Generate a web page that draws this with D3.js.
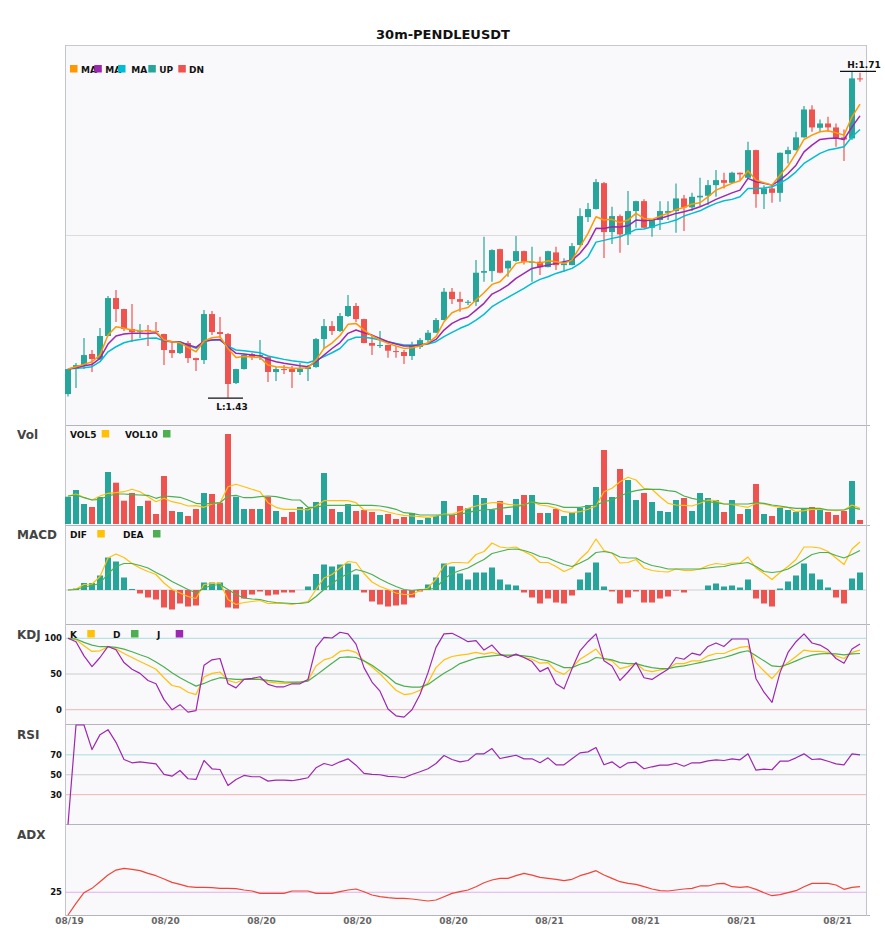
<!DOCTYPE html>
<html><head><meta charset="utf-8">
<script src="https://cdn.jsdelivr.net/npm/d3@7"></script>
<style>body{margin:0;background:#fff;} svg{display:block;font-family:"DejaVu Sans",sans-serif;}</style>
</head><body><svg id="c" width="885" height="950"></svg>
<script>
// ---------- data (30m PENDLEUSDT, 100 candles) ----------
const opens=[1.4334,1.4548,1.4582,1.4677,1.4634,1.4831,1.5156,1.5062,1.4891,1.4868,1.4882,1.4874,1.4848,1.4711,1.4685,1.4771,1.4642,1.4625,1.5019,1.4865,1.4848,1.4428,1.4548,1.4677,1.4660,1.4651,1.4523,1.4548,1.4548,1.4523,1.4548,1.4565,1.4805,1.4916,1.4874,1.5002,1.5088,1.4976,1.4771,1.4745,1.4754,1.4702,1.4694,1.4660,1.4737,1.4796,1.4859,1.4968,1.5210,1.5147,1.5116,1.5124,1.5373,1.5387,1.5575,1.5410,1.5473,1.5558,1.5458,1.5467,1.5421,1.5547,1.5438,1.5438,1.5610,1.5849,1.5918,1.6140,1.5721,1.5858,1.5701,1.5901,1.5986,1.5758,1.5824,1.5886,1.5901,1.6009,1.5932,1.6018,1.6032,1.6123,1.6166,1.6143,1.6229,1.6186,1.6423,1.6046,1.6095,1.6057,1.6389,1.6423,1.6532,1.6771,1.6614,1.6651,1.6617,1.6532,1.6523,1.7037];
const highs=[1.4551,1.4600,1.4814,1.4711,1.4899,1.5173,1.5224,1.5065,1.5105,1.4933,1.4925,1.4951,1.4850,1.4779,1.4782,1.4788,1.4645,1.5053,1.5045,1.4993,1.4856,1.4550,1.4677,1.4685,1.4796,1.4654,1.4565,1.4582,1.4574,1.4600,1.4582,1.4814,1.4976,1.4959,1.5028,1.5182,1.5113,1.4978,1.4831,1.4874,1.4757,1.4745,1.4711,1.4782,1.4814,1.4882,1.4985,1.5242,1.5242,1.5210,1.5139,1.5481,1.5681,1.5575,1.5578,1.5478,1.5687,1.5561,1.5595,1.5510,1.5561,1.5595,1.5496,1.5627,1.5926,1.5969,1.6175,1.6149,1.5938,1.5872,1.6072,1.5989,1.6003,1.5830,1.5986,1.5986,1.6138,1.6038,1.6057,1.6186,1.6166,1.6252,1.6229,1.6237,1.6232,1.6494,1.6426,1.6123,1.6123,1.6403,1.6451,1.6580,1.6800,1.6808,1.6686,1.6708,1.6651,1.6600,1.7098,1.7085];
const lows=[1.4312,1.4386,1.4548,1.4523,1.4625,1.4828,1.4951,1.4874,1.4779,1.4814,1.4745,1.4856,1.4582,1.4642,1.4677,1.4600,1.4531,1.4591,1.4839,1.4814,1.4303,1.4420,1.4545,1.4625,1.4625,1.4437,1.4446,1.4505,1.4386,1.4497,1.4446,1.4560,1.4719,1.4839,1.4865,1.4993,1.4951,1.4768,1.4668,1.4728,1.4645,1.4645,1.4591,1.4625,1.4719,1.4779,1.4856,1.4965,1.5105,1.5039,1.5096,1.5088,1.5296,1.5296,1.5368,1.5338,1.5467,1.5444,1.5296,1.5353,1.5419,1.5396,1.5381,1.5436,1.5607,1.5807,1.5915,1.5498,1.5618,1.5544,1.5610,1.5758,1.5753,1.5681,1.5738,1.5824,1.5715,1.5730,1.5901,1.5938,1.5952,1.6023,1.6095,1.6140,1.6166,1.6183,1.5929,1.5918,1.5972,1.5980,1.6309,1.6420,1.6529,1.6580,1.6580,1.6580,1.6451,1.6329,1.6509,1.7008];
const closes=[1.4548,1.4582,1.4668,1.4634,1.4831,1.5156,1.5062,1.4891,1.4865,1.4876,1.4874,1.4865,1.4711,1.4685,1.4779,1.4642,1.4625,1.5019,1.4865,1.4848,1.4420,1.4548,1.4668,1.4651,1.4668,1.4523,1.4548,1.4540,1.4523,1.4548,1.4565,1.4805,1.4916,1.4874,1.5002,1.5088,1.4976,1.4771,1.4748,1.4754,1.4705,1.4694,1.4660,1.4754,1.4796,1.4859,1.4968,1.5210,1.5147,1.5124,1.5124,1.5373,1.5387,1.5567,1.5373,1.5475,1.5558,1.5467,1.5467,1.5419,1.5558,1.5438,1.5453,1.5601,1.5858,1.5918,1.6149,1.5721,1.5858,1.5701,1.5901,1.5986,1.5758,1.5824,1.5901,1.5901,1.6009,1.5932,1.6023,1.6032,1.6123,1.6166,1.6143,1.6229,1.6215,1.6423,1.6046,1.6095,1.6057,1.6400,1.6423,1.6532,1.6771,1.6617,1.6651,1.6617,1.6523,1.6514,1.7037,1.7031];
const ma5=[1.4548,1.4568,1.4588,1.4611,1.4668,1.4839,1.4910,1.4897,1.4882,1.4876,1.4874,1.4868,1.4796,1.4782,1.4773,1.4734,1.4696,1.4788,1.4816,1.4825,1.4725,1.4648,1.4655,1.4651,1.4647,1.4582,1.4568,1.4563,1.4554,1.4554,1.4559,1.4625,1.4725,1.4771,1.4835,1.4931,1.4939,1.4882,1.4833,1.4796,1.4768,1.4745,1.4725,1.4731,1.4745,1.4773,1.4825,1.4953,1.5030,1.5059,1.5076,1.5139,1.5201,1.5273,1.5296,1.5367,1.5453,1.5467,1.5467,1.5453,1.5475,1.5467,1.5453,1.5481,1.5595,1.5710,1.5852,1.5824,1.5830,1.5802,1.5824,1.5881,1.5838,1.5830,1.5858,1.5881,1.5915,1.5932,1.5961,1.5972,1.6023,1.6080,1.6109,1.6138,1.6160,1.6246,1.6166,1.6143,1.6123,1.6209,1.6286,1.6395,1.6514,1.6551,1.6580,1.6588,1.6571,1.6551,1.6708,1.6817];
const ma10=[1.4548,1.4559,1.4576,1.4588,1.4640,1.4762,1.4831,1.4848,1.4854,1.4854,1.4852,1.4859,1.4790,1.4782,1.4779,1.4754,1.4734,1.4788,1.4796,1.4801,1.4739,1.4683,1.4677,1.4668,1.4660,1.4631,1.4611,1.4597,1.4588,1.4576,1.4568,1.4611,1.4668,1.4724,1.4775,1.4854,1.4882,1.4859,1.4839,1.4811,1.4782,1.4762,1.4745,1.4745,1.4754,1.4768,1.4802,1.4882,1.4939,1.4974,1.4996,1.5053,1.5111,1.5190,1.5224,1.5267,1.5325,1.5367,1.5410,1.5424,1.5438,1.5453,1.5467,1.5481,1.5539,1.5624,1.5753,1.5751,1.5766,1.5764,1.5775,1.5824,1.5818,1.5824,1.5838,1.5858,1.5881,1.5895,1.5915,1.5938,1.5967,1.6001,1.6029,1.6057,1.6080,1.6181,1.6152,1.6138,1.6123,1.6166,1.6223,1.6294,1.6408,1.6466,1.6514,1.6523,1.6526,1.6514,1.6622,1.6716];
const ma20=[1.4548,1.4554,1.4559,1.4568,1.4611,1.4696,1.4739,1.4773,1.4790,1.4802,1.4811,1.4814,1.4790,1.4782,1.4782,1.4754,1.4725,1.4782,1.4796,1.4796,1.4745,1.4711,1.4705,1.4696,1.4688,1.4660,1.4645,1.4631,1.4619,1.4611,1.4602,1.4625,1.4654,1.4688,1.4724,1.4796,1.4820,1.4820,1.4811,1.4796,1.4782,1.4768,1.4754,1.4754,1.4754,1.4762,1.4782,1.4825,1.4862,1.4897,1.4925,1.4968,1.5016,1.5082,1.5124,1.5162,1.5201,1.5239,1.5282,1.5316,1.5338,1.5367,1.5387,1.5410,1.5453,1.5510,1.5635,1.5650,1.5667,1.5681,1.5710,1.5744,1.5747,1.5766,1.5789,1.5804,1.5824,1.5858,1.5881,1.5903,1.5938,1.5967,1.5989,1.6001,1.6023,1.6095,1.6095,1.6098,1.6109,1.6138,1.6181,1.6237,1.6309,1.6352,1.6395,1.6423,1.6437,1.6451,1.6537,1.6600];
const volumes=[27.3,34,20,17,27,52,41.3,23.3,31,18,23.3,10,48,13,12,8,15,31,30,21.3,90,27.3,15,15,15,27,13,7,12,17,16,22,51,15,12,20,13,14,12,9,10,5,7,11,4,6,8,23,9,18,16,29,26,14.3,23,9,25,29,29,11,11,15,8,11,16,19,37,74,27,55,44,24,31,22,13,12,24,26,13,31,26,24,12,24,10,15,40,10,8,16,14,12,16,17,15,12,9,13,43,4];
const vol5=[28,30,26.7,24,28,30.7,31.3,32.3,34.7,32.3,27.3,22.3,25.7,22.3,20.7,18,18.3,16.7,20,21.3,37.3,39.7,37.3,34.7,32.3,21.3,16.7,14.7,14.7,14.7,14,18,23.3,23.3,23.3,23.3,21.3,14,14,14,12,10,8.7,8,7.3,6.7,8,10,10,12.3,15.7,18,20,21.3,21.3,19.7,19,19,22.3,19,18,15.7,12.3,11.3,12.3,14.7,18,32.3,35.7,42.3,46.7,44,35.7,34.7,27.3,20.7,19,18.7,18,20.7,24,23.3,20,19.7,18,16.7,20.7,20,18,16.7,16.7,12.3,13.3,14.7,14.7,14,13.3,14,19,15.7];
const vol10=[28,29,26.3,24,24.7,28,30,30,29.3,29,28.7,25.7,28,27.3,26.7,24,20.7,20,20.7,21.3,28,28.7,26.3,26.3,27.3,28,27.3,25.7,24,24,16.7,16.7,18.7,18.7,18.7,18.7,18.7,18.7,18.7,18,16.7,14.7,11.3,10.7,9,9,9,9,9,10,11.3,13.3,14,14.7,15.7,16.7,17.3,19,22.3,20.7,20.7,19,16.7,16.7,16.7,18,19,22.3,24,28,31.3,33.3,34.7,34.7,34.7,33.3,32.3,28,25.7,24,22.3,21.3,20,20,20,20,21.3,20.7,19,18,16.7,15.7,15.7,15.7,15.7,14,14,14,16.7,14.7];
const dif=[0,0.0002,0.0011,0.0012,0.0027,0.0064,0.0072,0.0065,0.0053,0.0044,0.0037,0.0031,0.0014,0.0001,-0.0006,-0.0013,-0.0017,0.0011,0.0013,0.0014,-0.0019,-0.0029,-0.0025,-0.0023,-0.0021,-0.0027,-0.0027,-0.0027,-0.0029,-0.0026,-0.0023,0.0001,0.0024,0.0031,0.0044,0.0057,0.0055,0.0033,0.0016,0.0007,0.0001,-0.0006,-0.0009,-0.0009,-0.0001,0.0004,0.0022,0.0049,0.0055,0.0055,0.0054,0.0071,0.0077,0.0094,0.0086,0.0084,0.0086,0.0077,0.0069,0.0055,0.0055,0.0047,0.0037,0.0044,0.0062,0.0077,0.0102,0.0079,0.0074,0.0054,0.0055,0.0061,0.0044,0.0039,0.0037,0.0036,0.0042,0.0039,0.0039,0.0042,0.0049,0.0053,0.0051,0.0054,0.0054,0.0066,0.0044,0.0033,0.0021,0.0035,0.0047,0.0061,0.0086,0.0086,0.0084,0.0077,0.0064,0.0051,0.0082,0.0096];
const dea=[0,0.0001,0.0006,0.0009,0.0013,0.0033,0.0047,0.0053,0.0053,0.0049,0.0044,0.0035,0.0027,0.0017,0.0009,0.0001,-0.0006,0.0004,0.0009,0.0011,0.0001,-0.0009,-0.0016,-0.0018,-0.0019,-0.0023,-0.0025,-0.0026,-0.0027,-0.0027,-0.0025,-0.0013,0.0001,0.0013,0.0024,0.0033,0.0041,0.0037,0.0031,0.0022,0.0014,0.0007,0.0001,-0.0001,0.0001,0.0001,0.0004,0.0022,0.0033,0.0039,0.0044,0.0053,0.0061,0.0073,0.0077,0.0081,0.0082,0.0079,0.0074,0.0067,0.0064,0.0057,0.0051,0.0047,0.0054,0.0062,0.0075,0.0077,0.0074,0.0066,0.0064,0.0064,0.0055,0.0049,0.0046,0.0042,0.0042,0.0042,0.0042,0.0042,0.0044,0.0046,0.0047,0.0051,0.0053,0.0055,0.0047,0.0037,0.0035,0.0037,0.0042,0.0051,0.0061,0.0071,0.0075,0.0075,0.0069,0.0064,0.0071,0.0079];
const macdHist=[0,0.0003,0.0014,0.0014,0.0029,0.0065,0.0057,0.0025,0.0002,-0.0007,-0.0015,-0.0019,-0.0035,-0.0039,-0.0027,-0.0033,-0.0031,0.0015,0.0015,0.0015,-0.0035,-0.0037,-0.0017,-0.0009,-0.0003,-0.0011,-0.0009,-0.0005,-0.0005,0,0.0007,0.0032,0.0051,0.0047,0.0051,0.0053,0.0031,-0.0005,-0.0023,-0.0029,-0.0033,-0.0031,-0.0029,-0.0015,-0.0003,0.0011,0.0025,0.0053,0.0047,0.0033,0.0021,0.0035,0.0035,0.0045,0.0021,0.0011,0.0009,-0.0005,-0.0015,-0.0027,-0.0017,-0.0025,-0.0027,-0.0011,0.0021,0.0035,0.0055,0.0007,-0.0003,-0.0027,-0.0015,-0.0003,-0.0025,-0.0025,-0.0017,-0.0013,-0.0001,-0.0005,0,0,0.0009,0.0013,0.0007,0.0009,0.0005,0.0021,-0.0017,-0.0027,-0.0033,0.0003,0.0017,0.0029,0.0053,0.0033,0.0021,0.0005,-0.0015,-0.0027,0.0023,0.0035];
const kVals=[100,98.1,89.6,81.6,82.5,88.2,84.9,78.7,73.1,67.4,62.2,56.6,44.8,33.9,31.6,24.5,21.2,45.7,50.9,52.8,41,37.7,42.4,43.4,42.4,39.1,37.7,36.8,37.7,38.7,41,61.3,69.8,73.1,81.6,83.5,80.2,68.4,59.9,50.4,38.7,27.3,21.2,22.6,27.3,37.7,58.9,69.8,74.5,76.4,77.8,80.2,77.8,80.2,76.9,75.4,77.3,73.1,70.7,65.1,66,54.2,49.5,58.9,70.7,77.8,84.9,70.7,68.4,57.5,60.3,65.1,55.6,53.3,55.6,57.5,64.6,64.6,68.4,68.4,75.4,78.7,78.7,83.5,87.2,88.6,66,54.2,43.4,56.6,66,74.5,83.5,81.6,81.6,80.2,75.4,71.7,80.2,83.5];
const dVals=[100,99,94.3,90.5,88.2,88.2,87.2,84.9,81.1,76.9,73.1,66.9,59.9,51.9,44.8,38.7,33,36.8,41.5,44.8,43.4,42.4,42.4,42.4,42.4,41,40.1,39.1,38.7,38.7,40.1,48.1,56.6,65.1,73.1,74,73.1,68.4,62.2,54.2,46.2,36.8,33,31.6,31.6,35.4,43.4,50.9,57.5,64.6,68.4,72.1,74,75.4,76.4,76.4,76.4,75.4,74,70.7,68.4,63.6,58.9,58.9,63.6,66.9,73.1,71.7,69.8,66,64.6,64.6,61.3,58.9,57.5,57.5,59.9,61.3,63.6,66,68.4,70.7,73.1,76.4,80.2,82.5,75.4,68.4,61.3,60.3,63.6,68.4,73.1,76.4,78.3,78.7,78.3,76.9,78.3,78.7];
const jVals=[100,95.2,75.4,60.3,73.1,88.6,83.9,66,56.6,50.9,41,36.3,14.1,0,7.1,-3.3,-1.4,62.2,69.8,71.7,36.3,30.6,42.4,43.8,46.2,35.4,32.1,32.1,36.3,36.3,42.4,87.2,101.4,100.4,108.4,106.1,91.9,58.9,38.7,25.9,0.9,-8.5,-10.4,0,21.2,51.9,87.2,106.1,107,101.4,95.2,96.7,83.5,90.5,77.8,73.1,77.8,73.1,67.4,53.3,58.9,36.3,29.2,57.5,82.5,95.2,106.1,68.4,61.3,41,52.8,66,44.8,42.4,49.5,56.6,73.1,70.7,79.2,76.4,88.6,93.4,88.6,99,99,99,43.4,24.5,10.4,51.9,80.2,95.2,106.1,93.4,90.5,83.9,71.7,65.1,84.9,91.9];
const rsiVals=[0,100,100,75.3,90.3,95.3,82.6,65.3,62,63,62,61,50.3,48.6,54.3,46,45.3,64.3,56,55.3,39.3,45.3,49.3,48,48,43.6,44.6,44.6,44,45.3,47,57,61.3,59.3,63,66,59.6,51.3,50.3,50,48.3,48,47,50.3,53,56,61.3,69.3,65.3,63,64.3,71,71,76.3,66.3,68,69.6,66,66,62,67,60,60,66,72,73,77.3,60,63,57,62,62.6,56,58,59.6,59.6,61.6,58.6,62,62,64,65,64.3,66,65,71,54.6,55.6,55,63.6,63.6,67,71,65.3,66,63.6,61,60,71,70];
const adxVals=[0,12.8,24.5,29.3,36.6,43.9,49.4,51.3,50.2,48.7,45.8,43.2,39.6,35.9,33.7,31.1,30.4,30.4,30,29.3,29.3,28.9,27.5,26.4,23.8,23.8,23.8,23.8,26.4,26.4,26.4,23.8,23.8,23.8,25.6,27.5,28.6,25.6,22,20.1,19,18.3,18.3,17.6,16.5,15.4,16.5,20.1,23.8,25.6,27.5,31.1,35.5,38.5,40.3,40.3,43.2,45.8,43.9,41.4,40.3,39.2,37.7,39.2,43.2,45.8,48.7,43.9,40.3,36.6,34.8,33.7,31.1,28.6,26.7,26.4,27.5,28.6,29.3,31.9,31.9,34.1,34.8,31.1,30.4,31.1,28.2,24.5,21.2,22.3,24.5,26.7,31.1,34.8,34.8,34.8,33,28.2,30.4,31.1];
const xTickIdx=[0,12,24,36,48,60,72,84,96];
const xTickLabels=["08/19","08/20","08/20","08/20","08/20","08/21","08/21","08/21","08/21"];
const kdjTicks=[100,50,0];
const rsiTicks=[70,50,30];
const adxTicks=[25];

// ---------- layout ----------
const UP="#26a69a", DN="#ef5350";
const svg=d3.select("#c");
const N=closes.length;
const L=65, R=866;
const P={main:[45,425],vol:[425,525],macd:[525,624],kdj:[624,724],rsi:[724,824],adx:[824,915]};
const x=d3.scaleBand().domain(d3.range(N)).range([64,864]);
const cx=i=>x(i)+x.bandwidth()/2;
const yP=d3.scaleLinear().domain([1.4069,1.7323]).range([425,45]);
const yV=d3.scaleLinear().domain([0,100]).range([524,424]);
const yM=d3.scaleLinear().domain([-0.0068,0.0130]).range([624,525]);
const yK=d3.scaleLinear().domain([-20,120]).range([724,624]);
const yR=d3.scaleLinear().domain([0,100]).range([824.5,725]);
const yA=d3.scaleLinear().domain([0,100]).range([915,824]);
const up=i=>closes[i]>=opens[i];

// background
svg.append("rect").attr("x",L).attr("y",45).attr("width",R-L).attr("height",915-45).attr("fill","#f9f9fb");
// title
svg.append("text").attr("x",443).attr("y",39).attr("text-anchor","middle").attr("font-size",13).attr("font-weight","bold").attr("fill","#111").text("30m-PENDLEUSDT");

// grid/reference lines
function hline(y,color){svg.append("line").attr("x1",L).attr("x2",R).attr("y1",y).attr("y2",y).attr("stroke",color).attr("stroke-width",1);}
hline(235.5,"#dcdcdc");
hline(yM(0),"#cfcfcf");
const refCols=["#a9dcdc","#cccccc","#f6b3b3"];
kdjTicks.forEach((t,k)=>hline(yK(t),refCols[k]));
rsiTicks.forEach((t,k)=>hline(yR(t),refCols[k]));
adxTicks.forEach(t=>hline(yA(t),"#dfb0ea"));

// frames
svg.append("line").attr("x1",L).attr("x2",R).attr("y1",45.5).attr("y2",45.5).attr("stroke","#c8c8d0");
[425,525,624,724,824,915].forEach(y=>{
  svg.append("line").attr("x1",L).attr("x2",R+4).attr("y1",y+0.5).attr("y2",y+0.5).attr("stroke","#b4b4bc");
});
svg.append("line").attr("x1",L+0.5).attr("x2",L+0.5).attr("y1",45).attr("y2",916).attr("stroke","#c4c4cc");
svg.append("line").attr("x1",R+0.5).attr("x2",R+0.5).attr("y1",45).attr("y2",916).attr("stroke","#c4c4cc");

// ---------- candles ----------
const gc=svg.append("g");
gc.selectAll("line").data(d3.range(N)).join("line")
  .attr("x1",i=>cx(i)).attr("x2",i=>cx(i))
  .attr("y1",i=>yP(highs[i])).attr("y2",i=>yP(lows[i]))
  .attr("stroke",i=>up(i)?UP:DN).attr("stroke-width",1.2);
gc.selectAll("rect").data(d3.range(N)).join("rect")
  .attr("x",i=>cx(i)-3).attr("width",6)
  .attr("y",i=>yP(Math.max(opens[i],closes[i])))
  .attr("height",i=>Math.max(1,Math.abs(yP(opens[i])-yP(closes[i]))))
  .attr("fill",i=>up(i)?UP:DN);

function drawLine(vals,yS,color,w){
  svg.append("path").datum(vals).attr("fill","none").attr("stroke",color).attr("stroke-width",w)
   .attr("stroke-linejoin","round")
   .attr("d",d3.line().x((d,i)=>cx(i)).y(d=>yS(d)));
}
drawLine(ma20,yP,"#00bcd4",1.5);
drawLine(ma10,yP,"#9c27b0",1.5);
drawLine(ma5,yP,"#ff9800",1.5);

// H / L marks
const iLow=d3.minIndex(lows), iHigh=d3.maxIndex(highs);
svg.append("line").attr("x1",cx(iLow)-20).attr("x2",cx(iLow)+15).attr("y1",yP(lows[iLow])+0.5).attr("y2",yP(lows[iLow])+0.5).attr("stroke","#111").attr("stroke-width",1.2);
svg.append("text").attr("x",cx(iLow)+4).attr("y",yP(lows[iLow])+12).attr("text-anchor","middle").attr("font-size",9).attr("font-weight","bold").attr("fill","#111").text("L:"+lows[iLow].toFixed(2));
svg.append("line").attr("x1",cx(iHigh)-12).attr("x2",cx(iHigh)+24).attr("y1",yP(highs[iHigh])).attr("y2",yP(highs[iHigh])).attr("stroke","#111").attr("stroke-width",1.2);
svg.append("text").attr("x",cx(iHigh)+12).attr("y",yP(highs[iHigh])-3).attr("text-anchor","middle").attr("font-size",9).attr("font-weight","bold").attr("fill","#111").text("H:"+highs[iHigh].toFixed(2));

// ---------- volume ----------
svg.append("g").selectAll("rect").data(d3.range(N)).join("rect")
  .attr("x",i=>cx(i)-3).attr("width",6)
  .attr("y",i=>yV(volumes[i])).attr("height",i=>yV(0)-yV(volumes[i]))
  .attr("fill",i=>up(i)?UP:DN);
drawLine(vol5,yV,"#ffc107",1.2);
drawLine(vol10,yV,"#4caf50",1.2);

// ---------- MACD ----------
svg.append("g").selectAll("rect").data(d3.range(N)).join("rect")
  .attr("x",i=>cx(i)-3).attr("width",6)
  .attr("y",i=>Math.min(yM(0),yM(macdHist[i])))
  .attr("height",i=>Math.abs(yM(macdHist[i])-yM(0)))
  .attr("fill",i=>macdHist[i]>=0?UP:DN);
drawLine(dif,yM,"#ffc107",1.2);
drawLine(dea,yM,"#4caf50",1.2);

// ---------- KDJ ----------
drawLine(kVals,yK,"#ffc107",1.2);
drawLine(dVals,yK,"#4caf50",1.2);
drawLine(jVals,yK,"#9c27b0",1.2);

// ---------- RSI / ADX ----------
drawLine(rsiVals,yR,"#9c27b0",1.2);
drawLine(adxVals,yA,"#f44336",1.2);

// ---------- axis labels ----------
function yLabel(txt,y){svg.append("text").attr("x",62).attr("y",y).attr("dy","0.35em").attr("text-anchor","end").attr("font-size",8.5).attr("font-weight","bold").attr("fill","#111").text(txt);}
kdjTicks.forEach(t=>yLabel(t,yK(t)));
rsiTicks.forEach(t=>yLabel(t,yR(t)));
adxTicks.forEach(t=>yLabel(t,yA(t)));
xTickIdx.forEach((idx,k)=>{
  svg.append("text").attr("x",cx(idx)+1.5).attr("y",924).attr("text-anchor","middle").attr("font-size",9).attr("font-weight","bold").attr("fill","#666").text(xTickLabels[k]);
});

// panel titles
[["Vol",439],["MACD",539],["KDJ",639],["RSI",739],["ADX",839]].forEach(([t,y])=>{
  svg.append("text").attr("x",17).attr("y",y).attr("font-size",12).attr("font-weight","bold").attr("fill","#444").text(t);
});

// legends
function legend(items,y){
  items.forEach(it=>{svg.append("text").attr("x",it.tx).attr("y",y).attr("font-size",9).attr("font-weight","bold").attr("fill","#111").text(it.t);});
  items.forEach(it=>{if(it.c)svg.append("rect").attr("x",it.sx).attr("y",y-7.5).attr("width",7.5).attr("height",7.5).attr("fill",it.c);});
}
legend([{t:"",sx:70,c:"#ff9800",tx:70},{t:"MA",tx:81,sx:94.3,c:"#9c27b0"},{t:"MA",tx:105.3,sx:118,c:"#00bcd4"},{t:"MA",tx:131.3,sx:148.3,c:UP},{t:"UP",tx:159.3,sx:178.3,c:DN},{t:"DN",tx:189}],72.5);
legend([{t:"VOL5",tx:70,sx:101.7,c:"#ffc107"},{t:"VOL10",tx:125,sx:163,c:"#4caf50"}],437.5);
legend([{t:"DIF",tx:70,sx:97.3,c:"#ffc107"},{t:"DEA",tx:123,sx:153,c:"#4caf50"}],537.5);
legend([{t:"K",tx:70,sx:87.3,c:"#ffc107"},{t:"D",tx:113,sx:131,c:"#4caf50"},{t:"J",tx:157,sx:175.7,c:"#9c27b0"}],637.5);
</script></body></html>
